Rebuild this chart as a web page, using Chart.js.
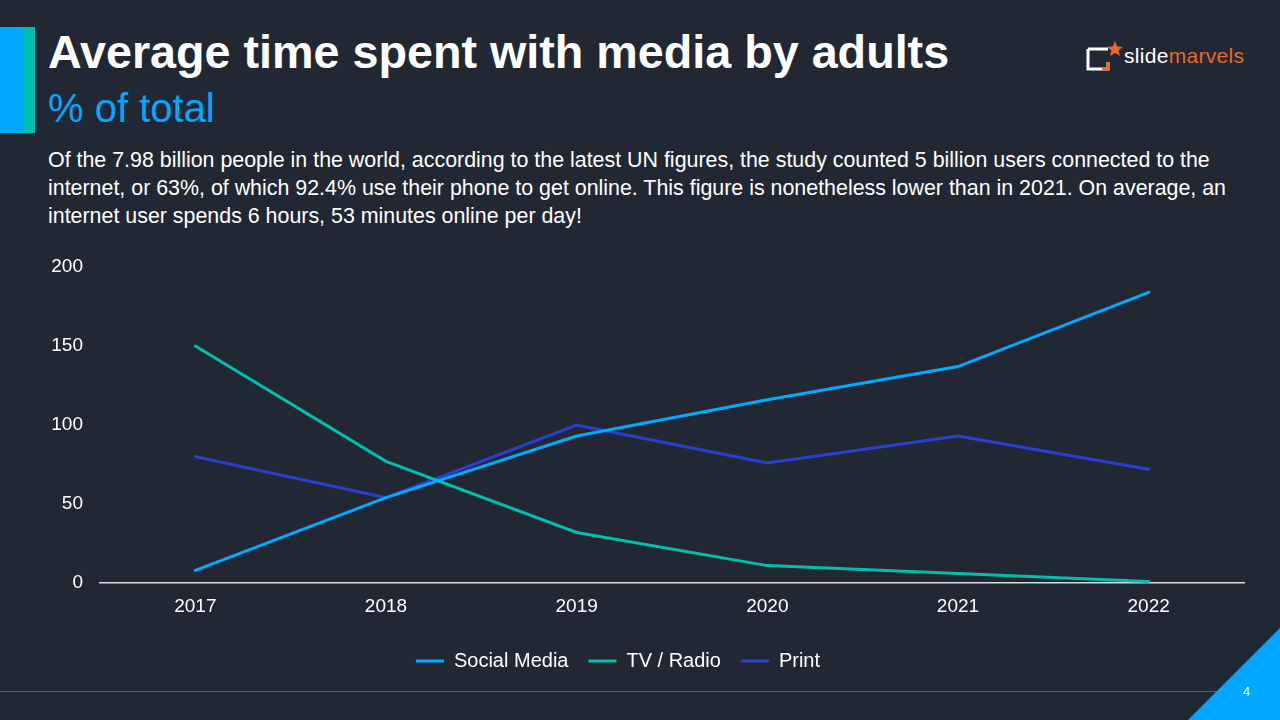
<!DOCTYPE html>
<html>
<head>
<meta charset="utf-8">
<script src="https://cdn.jsdelivr.net/npm/chart.js@4"></script>
<style>
  html, body { margin: 0; padding: 0; }
  body {
    width: 1280px; height: 720px; overflow: hidden; position: relative;
    background: #222833; font-family: "Liberation Sans", Arial, sans-serif; color: #fff;
  }
  .bar-blue { position: absolute; left: 0; top: 27px; width: 24px; height: 106px; background: #00a8ff; }
  .bar-teal { position: absolute; left: 24px; top: 27px; width: 11px; height: 106px; background: #00bfae; }
  h1 { position: absolute; left: 48px; top: 24px; margin: 0; font-size: 46.7px; font-weight: bold; line-height: 56px; }
  h2 { position: absolute; left: 48px; top: 86px; margin: 0; font-size: 40px; font-weight: normal; color: #00a8ff; line-height: 44px; }
  .intro { position: absolute; left: 48px; top: 146px; margin: 0; font-size: 21.4px; line-height: 28px; white-space: nowrap; }
  .logo { position: absolute; left: 1086px; top: 40px; height: 32px; display: flex; align-items: center; }
  .logo span { font-size: 21px; letter-spacing: 0.3px; }
  .chart-box { position: absolute; left: -8px; top: 239px; width: 1268px; height: 442px; }
  .footline { position: absolute; left: 0; top: 691px; width: 1220px; height: 1px; background: #2e6f99; }
  .corner { position: absolute; right: 0; bottom: 0; width: 0; height: 0;
    border-left: 92px solid transparent; border-bottom: 92px solid #00a8ff; }
  .pagenum { position: absolute; left: 1243px; top: 684px; font-size: 13px; }
</style>
</head>
<body>
<div class="bar-blue"></div><div class="bar-teal"></div>
<h1>Average time spent with media by adults</h1>
<h2>% of total</h2>
<p class="intro">Of the 7.98 billion people in the world, according to the latest UN figures, the study counted 5 billion users connected to the<br>internet, or 63%, of which 92.4% use their phone to get online. This figure is nonetheless lower than in 2021. On average, an<br>internet user spends 6 hours, 53 minutes online per day!</p>

<div class="logo">
  <svg width="38" height="32" viewBox="0 0 38 32">
    <path d="M2 9 H22 M2 9 V29 H22 V22" fill="none" stroke="#ffffff" stroke-width="3"/>
    <path d="M16 29 H22 V22" fill="none" stroke="#e8692a" stroke-width="3"/>
    <polygon points="29,1 31.2,6.5 37,6.8 32.5,10.5 34,16 29,13 24,16 25.5,10.5 21,6.8 26.8,6.5" fill="#e8692a"/>
  </svg>
  <span style="color:#ffffff">slide</span><span style="color:#e8692a">marvels</span>
</div>

<div class="chart-box"><canvas id="chart"></canvas></div>
<div class="footline"></div>
<div class="corner"></div>
<div class="pagenum">4</div>

<script>
// dados
const years = ['2017', '2018', '2019', '2020', '2021', '2022'];
const socialMedia = [8, 54, 93, 116, 137, 184];
const tvRadio = [150, 77, 32, 11, 6, 1];
const print = [80, 54, 100, 76, 93, 72];
const yTicks = [0, 50, 100, 150, 200];

const tickFont = { family: '"Liberation Sans", Arial, sans-serif', size: 19 };

function serie(label, data, color) {
    return {
        label: label,
        data: data,
        borderColor: color,
        backgroundColor: color,
        borderWidth: 3,
        pointRadius: 0,
        pointHoverRadius: 0,
        tension: 0,
        borderCapStyle: 'round'
    };
}

new Chart(document.getElementById('chart'), {
    type: 'line',
    data: {
        labels: years,
        datasets: [
            serie('Social Media', socialMedia, '#00aaff'),
            serie('TV / Radio', tvRadio, '#00bfae'),
            serie('Print', print, '#2a3fd6')
        ]
    },
    options: {
        responsive: true,
        maintainAspectRatio: false,
        animation: false,
        layout: { padding: { top: 28, right: 16, bottom: 0, left: 0 } },
        plugins: {
            legend: {
                position: 'bottom',
                labels: {
                    color: '#ffffff',
                    font: { family: '"Liberation Sans", Arial, sans-serif', size: 20 },
                    usePointStyle: true,
                    pointStyle: 'line',
                    pointStyleWidth: 28,
                    padding: 20
                }
            },
            tooltip: { enabled: false }
        },
        scales: {
            x: {
                offset: true,
                grid: { display: false },
                border: { display: true, color: '#d9d9d9', width: 1.5 },
                ticks: { color: '#ffffff', font: tickFont, padding: 4 },
                afterFit: (scale) => { scale.height = 48; }
            },
            y: {
                min: 0,
                max: 200,
                grid: { display: false },
                border: { display: false },
                afterBuildTicks: (scale) => { scale.ticks = yTicks.map(v => ({ value: v })); },
                ticks: { color: '#ffffff', font: tickFont, padding: 9 },
                afterFit: (scale) => { scale.width = 108; }
            }
        }
    }
});
</script>
</body>
</html>
